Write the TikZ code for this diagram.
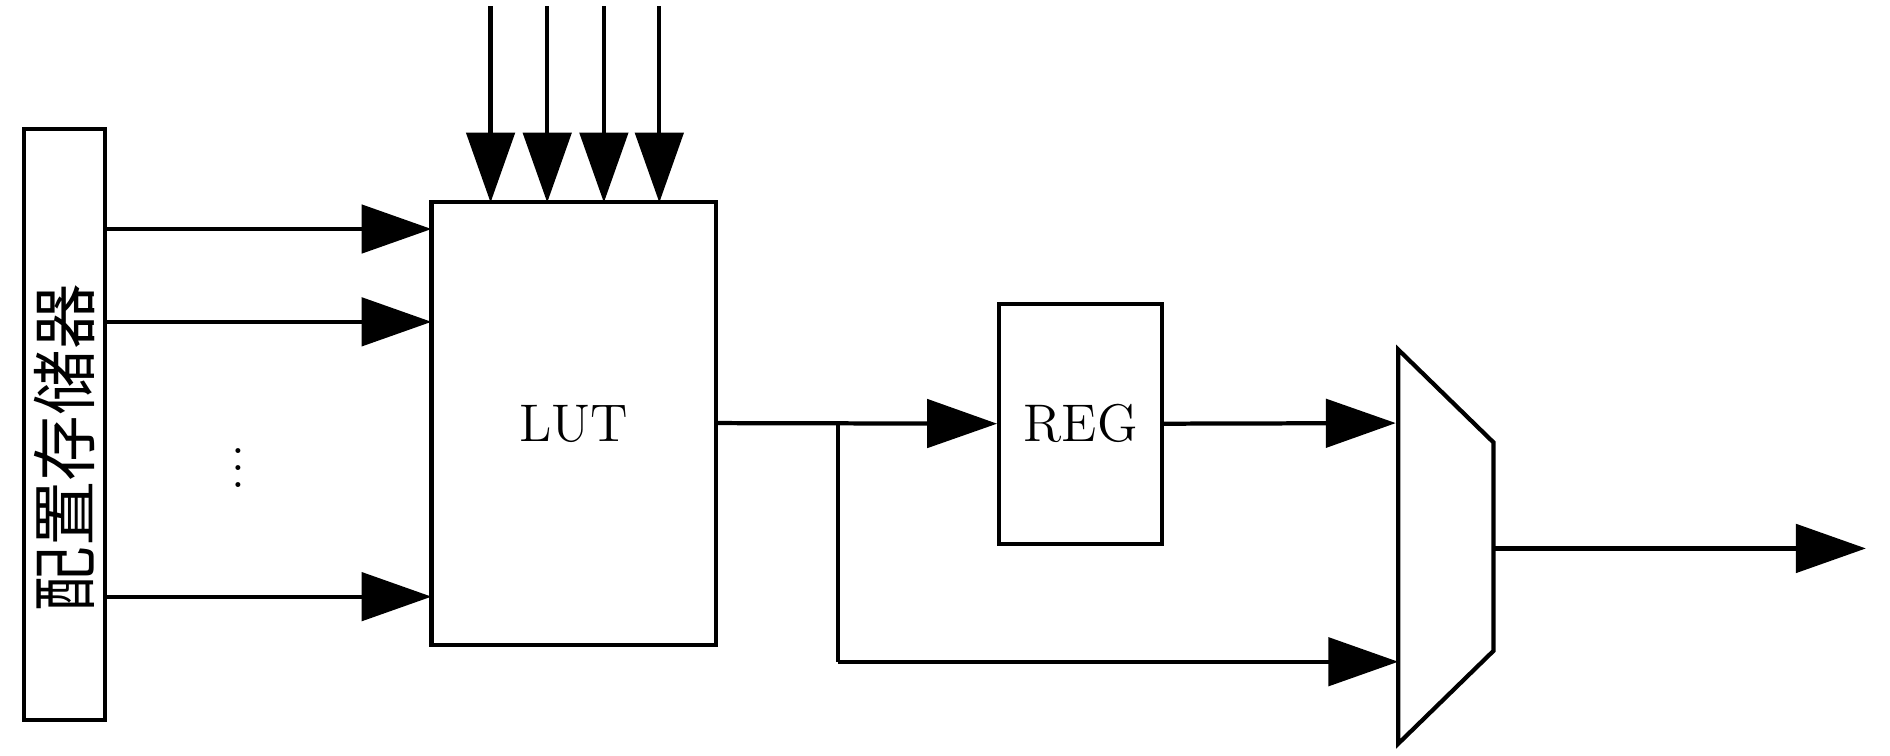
\documentclass[tikz,border=0pt]{standalone}
\usepackage{fontspec}
\newfontfamily\cjk{Noto Sans CJK SC}
\usetikzlibrary{arrows.meta}
\begin{document}
\begin{tikzpicture}[x=0.01cm,y=-0.01cm,
  box/.style={draw,line width=1pt,inner sep=0pt},
  arr/.style={line width=1pt,-{Triangle[length=0.58cm,width=0.4cm]}},
  ln/.style={line width=1pt}]
\useasboundingbox (0,0) rectangle (1568,627);
\node[box,minimum width=0.67cm,minimum height=4.9cm] (mem) at (53.5,352) {};
\node[rotate=90,font=\cjk\fontsize{15.5}{18}\selectfont] (memt) at (53.5,372) {配置存储器};
\node[box,minimum width=2.36cm,minimum height=3.67cm,font=\fontsize{12.5}{15}\selectfont] (lut) at (476,351.5) {LUT};
\node[box,minimum width=1.35cm,minimum height=1.99cm,font=\fontsize{12.5}{15}\selectfont] (reg) at (896.5,351.5) {REG};
\node[font=\fontsize{12}{14}\selectfont] (dots) at (198,378) {$\vdots$};
\coordinate (m1) at (87,190); \coordinate (l1) at (358,190);
\coordinate (m2) at (87,267); \coordinate (l2) at (358,267);
\coordinate (m3) at (87,495); \coordinate (l3) at (358,495);
\draw[arr] (m1) -- (l1);
\draw[arr] (m2) -- (l2);
\draw[arr] (m3) -- (l3);
\foreach \x/\n in {407/a,454/b,501/c,547/d}{
  \coordinate (t\n) at (\x,5); \coordinate (b\n) at (\x,168);
  \draw[arr] (t\n) -- (b\n);}
% mux
\coordinate (ma) at (1160,290); \coordinate (mb) at (1239,367);
\coordinate (mc) at (1239,540); \coordinate (md) at (1160,617);
\draw[ln] (ma) -- (mb) -- (mc) -- (md) -- cycle;
\coordinate (lo) at (594,351); \coordinate (br) at (695,351);
\coordinate (bd) at (695,549); \coordinate (mi2) at (1160,549);
\coordinate (mi1) at (1158,351);
\draw[arr] (lo) -- (reg.west);
\draw[ln] (br) -- (bd);
\draw[arr] (bd) -- (mi2);
\draw[arr] (reg.east) -- (mi1);
\coordinate (mo) at (1239,455); \coordinate (out) at (1548,455);
\draw[arr] (mo) -- (out);
\end{tikzpicture}
\end{document}
